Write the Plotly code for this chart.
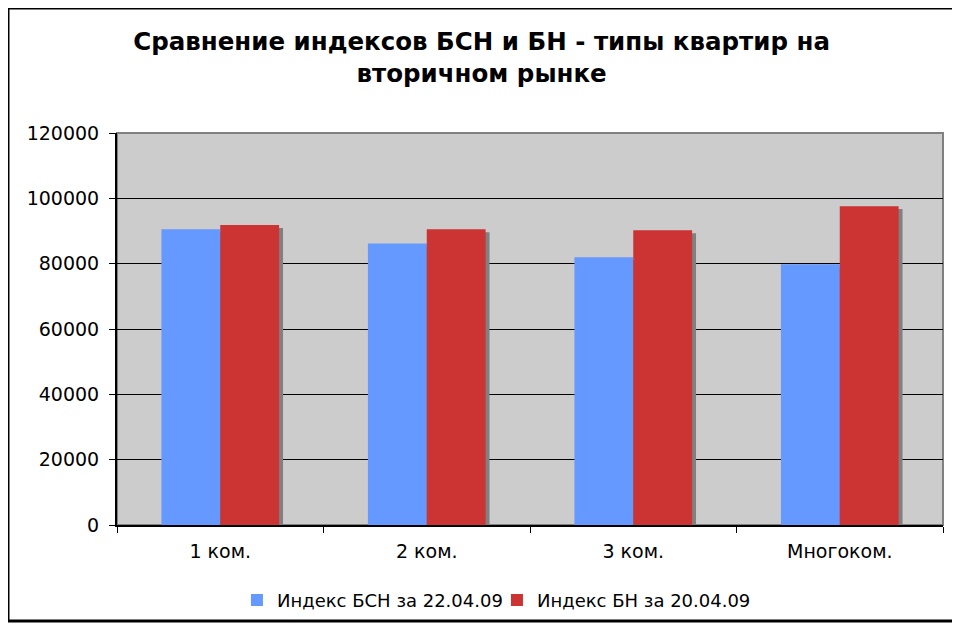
import plotly.graph_objects as go

categories = ["1 ком.", "2 ком.", "3 ком.", "Многоком."]
bsn_values = [90500, 86200, 82000, 79800]
bn_values = [91800, 90500, 90200, 97600]
series_names = ["Индекс БСН за 22.04.09", "Индекс БН за 20.04.09"]
title_text = "Сравнение индексов БСН и БН - типы квартир на<br>вторичном рынке"

BLUE = "#6699FF"
RED = "#CC3333"
SHADOW = "#808080"
BAR_W = 0.285
SH_DX = 0.019
SH_DROP = 900

W, H = 952, 619
L, T = 109, 125
PW, PH = 826, 392
R = W - L - PW
B = H - T - PH

fig = go.Figure()
for vals, off in [(bsn_values, -BAR_W), (bn_values, 0.0)]:
    fig.add_trace(go.Bar(x=categories, y=vals, base=-SH_DROP, width=BAR_W,
                         offset=off + SH_DX, marker=dict(color=SHADOW, line=dict(width=0)),
                         showlegend=False, hoverinfo="skip"))
fig.add_trace(go.Bar(x=categories, y=bsn_values, name=series_names[0], width=BAR_W,
                     offset=-BAR_W, marker=dict(color=BLUE, line=dict(width=0))))
fig.add_trace(go.Bar(x=categories, y=bn_values, name=series_names[1], width=BAR_W,
                     offset=0.0, marker=dict(color=RED, line=dict(width=0))))

fig.update_layout(
    width=W, height=H,
    barmode="overlay",
    paper_bgcolor="white",
    plot_bgcolor="#CCCCCC",
    margin=dict(l=L, r=R, t=T, b=B, autoexpand=False),
    font=dict(family="DejaVu Sans", color="black"),
    title=dict(text=title_text, x=0.4975, xanchor="center",
               yref="container", y=1 - 42 / H, yanchor="top",
               font=dict(family="DejaVu Sans", size=24.5, color="black", weight="bold")),
    legend=dict(orientation="h", x=0.46, xanchor="center", y=-0.145, yanchor="top",
                font=dict(size=18), itemsizing="constant", traceorder="normal",
                entrywidth=215, bgcolor="rgba(0,0,0,0)"),
    showlegend=True,
)
fig.update_yaxes(range=[0, 120000], dtick=20000, tickformat=".0f",
                 showgrid=True, gridcolor="black", gridwidth=1,
                 showline=True, linecolor="black", linewidth=2,
                 ticks="outside", ticklen=6, tickcolor="black", ticklabelstandoff=6,
                 tickfont=dict(size=19), zeroline=False, fixedrange=True)
fig.update_xaxes(showline=True, linecolor="black", linewidth=2,
                 ticks="outside", ticklen=6, tickcolor="black", tickson="boundaries",
                 ticklabelstandoff=8,
                 tickfont=dict(size=19), showgrid=False, fixedrange=True)

fig.add_shape(type="rect", xref="paper", yref="paper", x0=0, x1=1, y0=0, y1=1,
              line=dict(color=SHADOW, width=2), layer="below")
fig.add_shape(type="rect", xref="paper", yref="paper",
              x0=(0 - L) / PW, x1=(949 - L) / PW,
              y0=-(613 - T - PH) / PH, y1=1 + (T - 0) / PH,
              line=dict(color="black", width=3))

fig.write_html("out.html")
